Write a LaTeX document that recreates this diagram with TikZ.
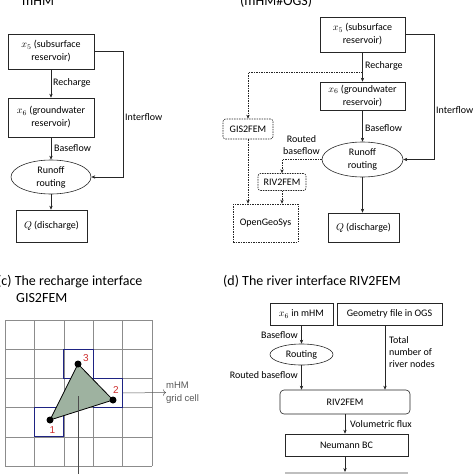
\documentclass[tikz,border=0pt]{standalone}
\usepackage{amsmath}
\usepackage{fontspec}
\setmainfont{Carlito}
\newfontfamily\arialfont{Liberation Sans}
\usetikzlibrary{arrows.meta,shapes.geometric}
\definecolor{cellblue}{RGB}{30,35,130}
\definecolor{trifill}{RGB}{158,178,160}
\definecolor{numred}{RGB}{205,45,45}

\begin{document}
\begin{tikzpicture}[x=1pt,y=-1pt,>={Stealth[length=4pt,width=3.4pt]},
  every node/.style={inner sep=0pt},
  box/.style={draw=black!85,line width=0.6pt,align=center,font=\fontsize{10}{13}\selectfont},
  dashbox/.style={box,dash pattern=on 1.5pt off 1pt,rounded corners=2.5pt},
  oval/.style={box,ellipse},
  lbl/.style={font=\fontsize{10}{12}\selectfont,align=left},
  ttl/.style={font=\fontsize{14}{16}\selectfont,anchor=base west},
  flow/.style={->,draw=black!85,line width=0.6pt},
  dflow/.style={flow,dash pattern=on 1.5pt off 1pt},
  gridline/.style={draw=black!45,line width=0.6pt},
  cellbox/.style={draw=cellblue,line width=0.8pt},
  num/.style={font=\arialfont\fontsize{10}{12}\selectfont,text=numred},
  dot/.style={circle,fill=black,minimum size=7pt}]
      \useasboundingbox (0,0) rectangle (474,474);
      \clip (0,0) rectangle (474,474);
      % (a)
      \node[ttl] (aTitle) at (22,5) {mHM};
      \node[box,minimum width=86,minimum height=35] (a5) at (51,51.5) {$x_5$ (subsurface\\reservoir)};
      \node[box,minimum width=86,minimum height=39] (a6) at (51,117.5) {$x_6$ (groundwater\\reservoir)};
      \node[oval,minimum width=80,minimum height=34] (aRun) at (51,177) {Runoff\\routing};
      \node[box,minimum width=71,minimum height=32] (aQ) at (51.5,226) {$Q$ (discharge)};
      \draw[flow] (a5) -- (a6);
      \draw[flow] (a6) -- (aRun);
      \draw[flow] (aRun) -- (aRun |- aQ.north);
      \draw[flow] (a5.east) -- ++(29,0) |- (aRun.east);
      \node[lbl,anchor=west] at (53,83) {Recharge};
      \node[lbl,anchor=west] at (54,148) {Baseflow};
      \node[lbl,anchor=west] at (125,117) {Interflow};
      % (b)
      \node[ttl] (bTitle) at (240,5) {(mHM\#OGS)};
      \node[box,minimum width=85,minimum height=35] (b5) at (362.5,34.5) {$x_5$ (subsurface\\reservoir)};
      \node[box,minimum width=85,minimum height=28] (b6) at (362.5,96) {$x_6$ (groundwater\\reservoir)};
      \node[oval,minimum width=81,minimum height=35] (bRun) at (362.5,159.5) {Runoff\\routing};
      \node[box,minimum width=71,minimum height=29] (bQ) at (363.5,227.5) {$Q$ (discharge)};
      \node[dashbox,minimum width=50,minimum height=20] (bGis) at (248,129) {GIS2FEM};
      \node[dashbox,minimum width=48,minimum height=17] (bRiv) at (282,182) {RIV2FEM};
      \node[box,dash pattern=on 1.5pt off 1pt,minimum width=65,minimum height=38] (bOgs) at (265.5,223) {OpenGeoSys};
      \coordinate (bSplit) at (362.5,72);
      \draw[flow] (b5) -- (b6);
      \draw[flow] (b6) -- (bRun);
      \draw[flow] (bRun) -- (bRun |- bQ.north);
      \draw[flow] (b5.east) -- ++(29,0) |- (bRun.east);
      \draw[dflow] (bSplit) -| (bGis.north);
      \draw[dflow] (bRun.west) -| (bRiv.north);
      \draw[dflow] (bGis.south) -- (bGis.south |- bOgs.north);
      \draw[dflow] (bRiv.south) -- (bRiv.south |- bOgs.north);
      \node[lbl,anchor=west] at (365,66) {Recharge};
      \node[lbl,anchor=west] at (365,128) {Baseflow};
      \node[lbl,anchor=west] at (436,110) {Interflow};
      \node[lbl,align=center] at (301.5,145) {Routed\\baseflow};
      % (c)
      \node[ttl] (cTitle) at (-3,285) {(c) The recharge interface};
      \node[ttl] at (16,302) {GIS2FEM};
      \foreach \i in {0,...,5} {
        \draw[gridline] (5+29.4*\i,320) -- (5+29.4*\i,466);
        \draw[gridline] (5,320+29.2*\i) -- (152,320+29.2*\i);
      }
      \draw[cellbox] (63.8,349.2) rectangle +(29.4,29.2);
      \draw[cellbox] (93.2,378.4) rectangle +(29.4,29.2);
      \draw[cellbox] (34.4,407.6) rectangle +(29.4,29.2);
      \coordinate (p1) at (50,420);
      \coordinate (p2) at (113,400);
      \coordinate (p3) at (78,364);
      \fill[trifill] (p1) -- (p2) -- (p3) -- cycle;
      \draw[black,line width=0.8pt] (p1) -- (p2) -- (p3) -- cycle;
      \node[dot] (n1) at (p1) {};
      \node[dot] (n2) at (p2) {};
      \node[dot] (n3) at (p3) {};
      \node[num] at (52.5,430) {1};
      \node[num] at (116,390) {2};
      \node[num] at (86,358) {3};
      \node[font=\arialfont\fontsize{9.5}{12.5}\selectfont,text=black!65,align=left,anchor=west] (cellLbl) at (166,392.5) {mHM\\grid cell};
      \coordinate (cellR) at (122.6,393);
      \draw[->,black!65,line width=0.5pt,>={To[length=3pt]}] (cellR) -- (cellLbl.west);
      \coordinate (tMid) at (78,396);
      \draw[black!70,line width=0.7pt] (tMid) -- (78,480);
      % (d)
      \node[ttl] (dTitle) at (223,285) {(d) The river interface RIV2FEM};
      \node[box,minimum width=63,minimum height=22] (dX6) at (301.5,314) {$x_6$ in mHM};
      \node[box,minimum width=105,minimum height=22] (dGeo) at (389.5,314) {Geometry file in OGS};
      \node[oval,minimum width=63,minimum height=21] (dRout) at (301.5,354.5) {Routing};
      \node[box,rounded corners=4pt,minimum width=130,minimum height=24] (dRiv) at (345,402) {RIV2FEM};
      \node[box,minimum width=123,minimum height=22] (dNeu) at (346.5,445) {Neumann BC};
      \node[fill=black!25,minimum width=123,minimum height=12,anchor=north] (dNext) at (346.5,472) {};
      \coordinate (dGeoOut) at (385,325);
      \draw[flow] (dX6) -- (dRout);
      \draw[flow] (dRout) -- (dRout |- dRiv.north);
      \draw[flow] (dGeoOut) -- (dGeoOut |- dRiv.north);
      \draw[flow] (dRiv) -- (dRiv |- dNeu.north);
      \draw[flow] (dNeu.south -| dRiv) -- (dRiv |- dNext.north);
      \node[lbl,anchor=east] at (298,335) {Baseflow};
      \node[lbl,anchor=east] at (298,375) {Routed baseflow};
      \node[lbl,anchor=west] at (389,352) {Total\\number of\\river nodes};
      \node[lbl,anchor=west] at (350,424) {Volumetric flux};
\end{tikzpicture}
\end{document}
